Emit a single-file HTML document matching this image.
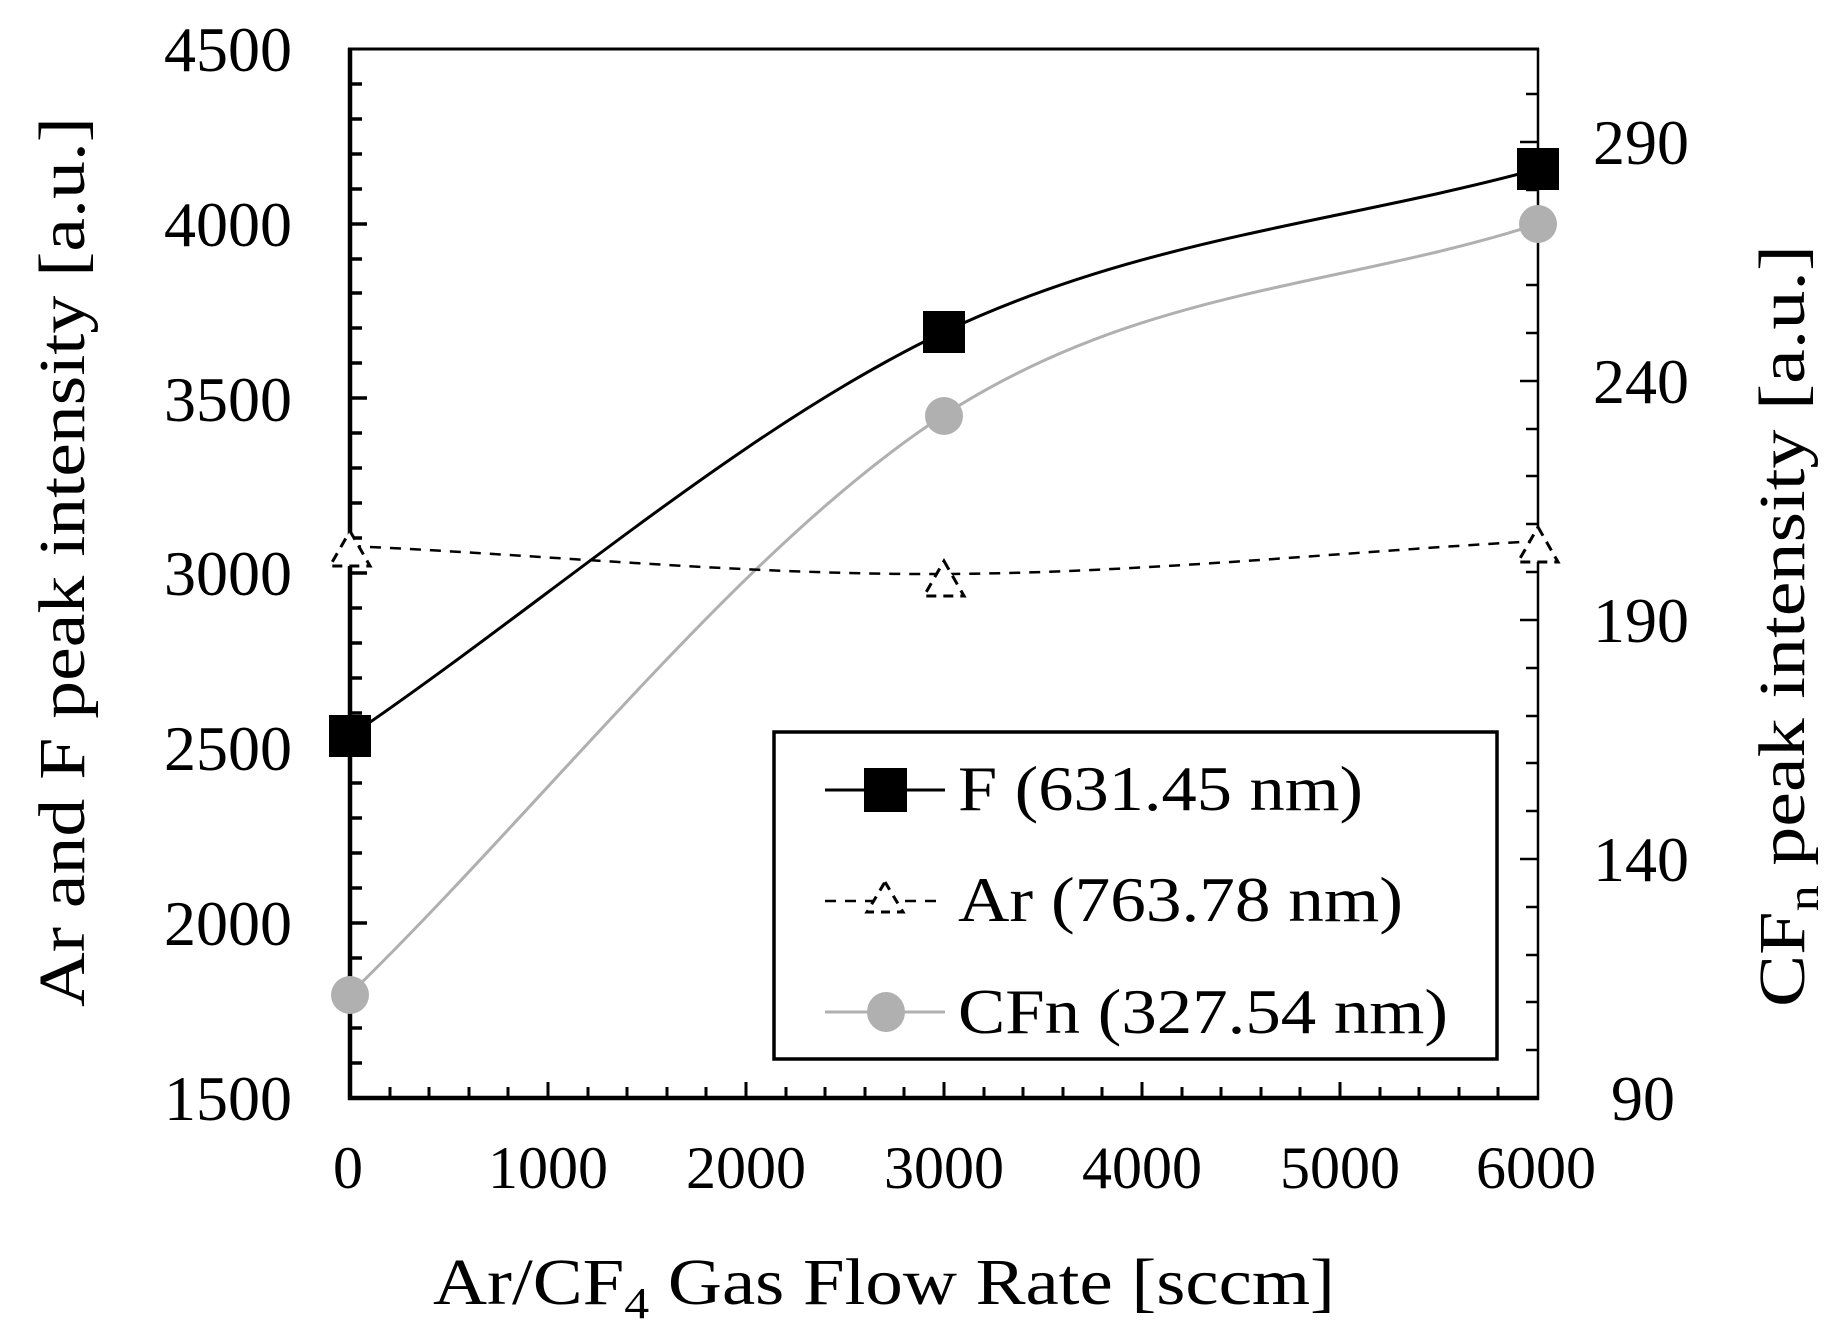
<!DOCTYPE html>
<html><head><meta charset="utf-8"><style>
html,body{margin:0;padding:0;background:#fff;}
svg{display:block;}
text{font-family:"Liberation Serif",serif;fill:#000;}
</style></head><body>
<svg width="1836" height="1339" viewBox="0 0 1836 1339" xmlns="http://www.w3.org/2000/svg">
<!-- left ticks -->
<path stroke="#000" stroke-width="3.5" fill="none" d="
M350 1063h12M350 1028h12M350 993h12M350 958h12M350 923h17M350 888h12M350 853h12M350 818h12M350 783h12M350 748h17
M350 713h12M350 678h12M350 643h12M350 608h12M350 573h17M350 538h12M350 503h12M350 468h12M350 433h12M350 398h17
M350 363h12M350 328h12M350 293h12M350 259h12M350 224h17M350 189h12M350 154h12M350 119h12M350 84h12"/>
<!-- right ticks -->
<path stroke="#000" stroke-width="2.5" fill="none" d="
M1538 1050h-12M1538 1002h-12M1538 955h-12M1538 907h-12M1538 859h-18M1538 811h-12M1538 763h-12M1538 716h-12M1538 668h-12M1538 620h-18
M1538 572h-12M1538 524h-12M1538 476h-12M1538 429h-12M1538 381h-18M1538 333h-12M1538 285h-12M1538 237h-12M1538 190h-12M1538 142h-18M1538 94h-12"/>
<!-- x ticks -->
<path stroke="#000" stroke-width="3" fill="none" d="
M390 1098v-11M429 1098v-11M469 1098v-11M508 1098v-11M548 1098v-16M588 1098v-11M627 1098v-11M667 1098v-11M706 1098v-11M746 1098v-16
M786 1098v-11M825 1098v-11M865 1098v-11M904 1098v-11M944 1098v-16M984 1098v-11M1023 1098v-11M1063 1098v-11M1102 1098v-11M1142 1098v-16
M1182 1098v-11M1221 1098v-11M1261 1098v-11M1300 1098v-11M1340 1098v-16M1380 1098v-11M1419 1098v-11M1459 1098v-11M1498 1098v-11"/>
<!-- axes frame -->
<line x1="348" y1="49" x2="1539" y2="49" stroke="#000" stroke-width="3"/>
<line x1="1538" y1="48" x2="1538" y2="1100" stroke="#000" stroke-width="2.5"/>
<line x1="350" y1="48" x2="350" y2="1100" stroke="#000" stroke-width="4.5"/>
<line x1="348" y1="1098" x2="1539" y2="1098" stroke="#000" stroke-width="4.5"/>

<!-- series -->
<path d="M350 994 C548 801 746 543 944 415 C1142 287 1340 288 1538 224" stroke="#b0b0b0" stroke-width="3" fill="none"/>
<path d="M350 546 C548 555 746 575 944 574 C1142 573 1340 552 1538 541" stroke="#000" stroke-width="2.5" fill="none" stroke-dasharray="11,9"/>
<path d="M350 736 C548 601 746 426 944 332 C1142 238 1340 223 1538 169" stroke="#000" stroke-width="3" fill="none"/>

<!-- markers -->
<g fill="#b0b0b0"><circle cx="350" cy="995" r="19"/><circle cx="944" cy="416" r="19"/><circle cx="1538" cy="224" r="19"/></g>
<g fill="#fff" stroke="#000" stroke-width="3" stroke-dasharray="10,7">
<path d="M350 531 L370 566 L330 566 Z"/><path d="M944 561 L964 596 L924 596 Z"/><path d="M1538 527 L1558 562 L1518 562 Z"/>
</g>
<g fill="#000"><rect x="329" y="715" width="42" height="42"/><rect x="923" y="311" width="42" height="42"/><rect x="1517" y="148" width="42" height="42"/></g>

<!-- legend -->
<rect x="774" y="732" width="723" height="327" fill="#fff" stroke="#000" stroke-width="3.5"/>
<line x1="825" y1="790" x2="945" y2="790" stroke="#000" stroke-width="3"/>
<rect x="864" y="768" width="43" height="44" fill="#000"/>
<text x="958" y="810" font-size="64" textLength="405" lengthAdjust="spacingAndGlyphs">F (631.45 nm)</text>
<line x1="825" y1="901" x2="945" y2="901" stroke="#000" stroke-width="2.5" stroke-dasharray="11,9"/>
<path d="M885 882 L903 912 L867 912 Z" fill="#fff" stroke="#000" stroke-width="3" stroke-dasharray="9,7"/>
<text x="958" y="921" font-size="64" textLength="445" lengthAdjust="spacingAndGlyphs">Ar (763.78 nm)</text>
<line x1="825" y1="1012" x2="945" y2="1012" stroke="#b0b0b0" stroke-width="3"/>
<ellipse cx="886" cy="1012" rx="19" ry="20" fill="#b0b0b0"/>
<text x="958" y="1033" font-size="64" textLength="490" lengthAdjust="spacingAndGlyphs">CFn (327.54 nm)</text>

<!-- left tick labels -->
<g font-size="64" text-anchor="end">
<text x="292" y="71">4500</text><text x="292" y="246">4000</text><text x="292" y="421">3500</text>
<text x="292" y="595">3000</text><text x="292" y="770">2500</text><text x="292" y="945">2000</text><text x="292" y="1120">1500</text>
</g>
<!-- right tick labels -->
<g font-size="64">
<text x="1593" y="164">290</text><text x="1593" y="403">240</text><text x="1593" y="642">190</text>
<text x="1593" y="881">140</text><text x="1611" y="1120">90</text>
</g>
<!-- x tick labels -->
<g font-size="60" text-anchor="middle">
<text x="348" y="1188">0</text><text x="548" y="1188">1000</text><text x="746" y="1188">2000</text><text x="944" y="1188">3000</text>
<text x="1142" y="1188">4000</text><text x="1340" y="1188">5000</text><text x="1536" y="1188">6000</text>
</g>
<!-- axis titles -->
<text x="433" y="1304" font-size="66" textLength="902" lengthAdjust="spacingAndGlyphs">Ar/CF<tspan font-size="44" dy="14">4</tspan><tspan dy="-14"> Gas Flow Rate [sccm]</tspan></text>
<text transform="translate(84 1007) rotate(-90)" font-size="66" textLength="890" lengthAdjust="spacingAndGlyphs">Ar and F peak intensity [a.u.]</text>
<text transform="translate(1804 1007) rotate(-90)" font-size="66" textLength="762" lengthAdjust="spacingAndGlyphs">CF<tspan font-size="44" dy="14">n</tspan><tspan dy="-14"> peak intensity [a.u.]</tspan></text>
</svg>
</body></html>
